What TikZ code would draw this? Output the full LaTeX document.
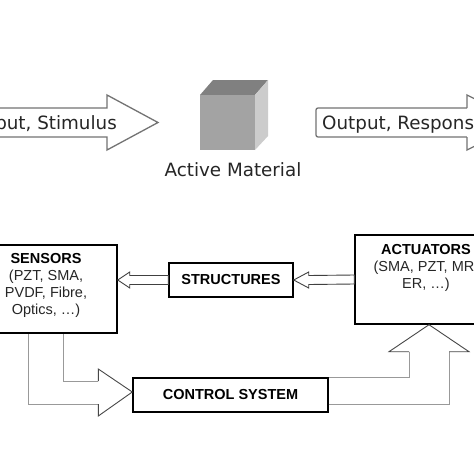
\documentclass[tikz,border=0pt]{standalone}
\usepackage{fontspec}
\setmainfont{Liberation Sans}
\newfontfamily\verd{DejaVu Sans}
\usetikzlibrary{calc}
\begin{document}
\begin{tikzpicture}[x=1pt,y=-1pt,
  box/.style={draw=black, line width=1.4pt, fill=white, inner sep=0pt},
  boxtitle/.style={font=\fontsize{14.5}{17}\selectfont\bfseries, text=black},
  boxtext/.style={align=center, inner sep=0pt, font=\fontsize{14.5}{17}\selectfont, text=black!85},
  bigarrow/.style={draw=black!55, line width=1.3pt, fill=white},
  hollow/.style={draw=black!75, line width=0.9pt, fill=white},
  feed/.style={draw=black!40, line width=0.9pt},
  feedhead/.style={draw=black!72, line width=0.9pt},
  bigtext/.style={font=\verd\fontsize{18.3}{21}\selectfont, text=black!85, inner sep=0pt}
]
\useasboundingbox (0,0) rectangle (474,474);
\clip (0,0) rectangle (474,474);
\fill[white] (0,0) rectangle (474,474);

% ---------- top: input / active material / output ----------
\draw[bigarrow] (-10,108) -- (107,108) -- (107,95) -- (158,122.5) -- (107,150) -- (107,137) -- (-10,137) -- cycle;
\node[bigtext, anchor=base east] (inp) at (117,129) {Input, Stimulus};

\draw[bigarrow, rounded corners=2pt] (467,137) -- (316,137) -- (316,108) -- (467,108);
\draw[bigarrow] (467,108) -- (467,95) -- (522,122.5) -- (467,150) -- (467,137);
\node[bigtext, anchor=base west] (outp) at (322,129) {Output, Response};

% cube
\fill[black!50] (200,95) -- (213,80) -- (268,80) -- (255,95) -- cycle;
\fill[black!20] (255,95) -- (268,80) -- (268,136) -- (255,150) -- cycle;
\fill[black!36] (200,95) rectangle (255,150);
\node[bigtext, anchor=base] (am) at (233,176) {Active Material};

% ---------- bottom: block diagram ----------
\node[box, minimum width=142pt, minimum height=88pt] (sens) at (46,289) {};
\node[boxtext] (senstxt) at (46,285) {\textbf{\textcolor{black}{SENSORS}}\\(PZT, SMA,\\PVDF, Fibre,\\Optics, \ldots)};

\node[box, minimum width=124pt, minimum height=34pt, boxtitle] (struct) at (231,280) {STRUCTURES};

\node[box, minimum width=142pt, minimum height=89pt] (act) at (426,279.5) {};
\node[boxtext] (acttxt) at (426,268) {\textbf{\textcolor{black}{ACTUATORS}}\\(SMA, PZT, MR,\\ER, \ldots)};

\node[box, minimum width=195pt, minimum height=34pt, boxtitle] (ctrl) at (230.5,395) {CONTROL SYSTEM};

% actuators -> structures
\draw[hollow] (struct.east) -- ++(15,-8) -- ++(0,3.5) -- ($(act.west)+(0,-4.5)$)
  -- ($(act.west)+(0,4.5)$) -- ($(struct.east)+(15,4.5)$) -- ++(0,3.5) -- cycle;
% structures -> sensors
\coordinate (stip) at (sens.east |- struct.west);
\draw[hollow] (stip) -- ++(12,-8) -- ++(0,3.5) -- ($(struct.west)+(0,-4.5)$)
  -- ($(struct.west)+(0,4.5)$) -- ($(stip)+(12,4.5)$) -- ++(0,3.5) -- cycle;

% sensors -> control system
\coordinate (fbtip) at ($(ctrl.west)+(0,-3)$);
\draw[feed] ($(sens.south)+(-18,0.7)$) |- ($(fbtip)+(-34,12)$);
\draw[feed] ($(sens.south)+(17,0.7)$) |- ($(fbtip)+(-34,-11)$);
\draw[feedhead] ($(fbtip)+(-34,12)$) -- ($(fbtip)+(-34,24)$) -- (fbtip)
  -- ($(fbtip)+(-34,-23)$) -- ($(fbtip)+(-34,-11)$);

% control system -> actuators
\coordinate (atip) at ($(act.south)+(3,0)$);
\draw[feed] (ctrl.north east) -| ($(atip)+(-20,27)$);
\draw[feed] ($(ctrl.east)+(0,9)$) -| ($(atip)+(20,27)$);
\draw[feedhead] ($(atip)+(-20,27)$) -- ($(atip)+(-40,27)$) -- (atip)
  -- ($(atip)+(40,27)$) -- ($(atip)+(20,27)$);
\end{tikzpicture}
\end{document}
